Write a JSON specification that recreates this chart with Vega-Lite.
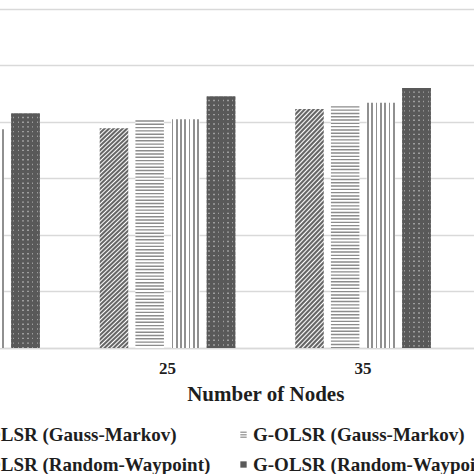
{
  "$schema": "https://vega.github.io/schema/vega-lite/v6.json",
  "width": 474,
  "height": 348,
  "autosize": {"type": "none"},
  "padding": {"left": 0, "top": 0, "right": 0, "bottom": 126},
  "background": "#ffffff",
  "config": {
    "view": {"stroke": null},
    "legend": {
      "orient": "none",
      "legendX": -33,
      "legendY": 425,
      "columns": 2,
      "columnPadding": 23,
      "rowPadding": 10,
      "padding": 0,
      "title": null,
      "labelFont": "Liberation Serif",
      "labelFontSize": 19,
      "labelFontWeight": "bold",
      "labelColor": "#1e1e1e",
      "labelLimit": 500,
      "labelOffset": 0,
      "symbolSize": 40,
      "symbolOpacity": 1,
      "symbolStrokeWidth": 0
    }
  },
  "data": {
    "values": [
      {"nodes": "15", "protocol": "OLSR (Gauss-Markov)", "value": 36.0},
      {"nodes": "15", "protocol": "G-OLSR (Gauss-Markov)", "value": 37.4},
      {"nodes": "15", "protocol": "OLSR (Random-Waypoint)", "value": 38.7},
      {"nodes": "15", "protocol": "G-OLSR (Random-Waypoint)", "value": 41.5},
      {"nodes": "25", "protocol": "OLSR (Gauss-Markov)", "value": 38.9},
      {"nodes": "25", "protocol": "G-OLSR (Gauss-Markov)", "value": 40.3},
      {"nodes": "25", "protocol": "OLSR (Random-Waypoint)", "value": 40.5},
      {"nodes": "25", "protocol": "G-OLSR (Random-Waypoint)", "value": 44.5},
      {"nodes": "35", "protocol": "OLSR (Gauss-Markov)", "value": 42.3},
      {"nodes": "35", "protocol": "G-OLSR (Gauss-Markov)", "value": 42.8},
      {"nodes": "35", "protocol": "OLSR (Random-Waypoint)", "value": 43.4},
      {"nodes": "35", "protocol": "G-OLSR (Random-Waypoint)", "value": 46.0},
      {"nodes": "45", "protocol": "OLSR (Gauss-Markov)", "value": 44.2},
      {"nodes": "45", "protocol": "G-OLSR (Gauss-Markov)", "value": 44.9},
      {"nodes": "45", "protocol": "OLSR (Random-Waypoint)", "value": 45.6},
      {"nodes": "45", "protocol": "G-OLSR (Random-Waypoint)", "value": 47.6}
    ]
  },
  "encoding": {
    "x": {
      "field": "nodes",
      "type": "nominal",
      "sort": ["15", "25", "35", "45"],
      "scale": {"domain": ["15", "25", "35", "45"], "range": [-125.75, 656.25], "paddingInner": 0, "paddingOuter": 0},
      "axis": {
        "title": "Number of Nodes",
        "domain": true,
        "domainColor": "#d9d9d9",
        "domainWidth": 1.3,
        "ticks": false,
        "tickSize": 0,
        "grid": false,
        "labelAngle": 0,
        "labelFont": "Liberation Serif",
        "labelFontSize": 17,
        "labelFontWeight": "bold",
        "labelColor": "#1e1e1e",
        "labelPadding": 12,
        "titleFont": "Liberation Serif",
        "titleFontSize": 21,
        "titleFontWeight": "bold",
        "titleColor": "#1e1e1e",
        "titlePadding": 7
      }
    },
    "xOffset": {
      "field": "protocol",
      "type": "nominal",
      "scale": {
        "domain": ["OLSR (Gauss-Markov)", "G-OLSR (Gauss-Markov)", "OLSR (Random-Waypoint)", "G-OLSR (Random-Waypoint)"],
        "paddingInner": 0.2,
        "paddingOuter": 0.84
      }
    },
    "y": {
      "field": "value",
      "type": "quantitative",
      "scale": {"domain": [0, 61.59], "nice": false},
      "axis": {
        "title": null,
        "domain": false,
        "ticks": false,
        "labels": false,
        "grid": true,
        "gridColor": "#d9d9d9",
        "gridWidth": 1.3,
        "values": [0, 10, 20, 30, 40, 50, 60]
      }
    }
  },
  "layer": [
    {
      "transform": [{"filter": "datum.protocol === 'OLSR (Gauss-Markov)'"}],
      "mark": {
        "type": "bar",
        "clip": true,
        "fill": {
          "gradient": "linear", "x1": 0, "y1": 0, "x2": 0.1594, "y2": 1.2846,
          "stops": [
            {"offset": 0, "color": "#666666"}, {"offset": 0.005, "color": "#666666"}, {"offset": 0.01, "color": "#ffffff"},
            {"offset": 0.015, "color": "#666666"}, {"offset": 0.02, "color": "#666666"}, {"offset": 0.025, "color": "#ffffff"},
            {"offset": 0.03, "color": "#666666"}, {"offset": 0.035, "color": "#666666"}, {"offset": 0.04, "color": "#ffffff"},
            {"offset": 0.045, "color": "#666666"}, {"offset": 0.05, "color": "#666666"}, {"offset": 0.055, "color": "#ffffff"},
            {"offset": 0.06, "color": "#666666"}, {"offset": 0.065, "color": "#666666"}, {"offset": 0.07, "color": "#ffffff"},
            {"offset": 0.075, "color": "#666666"}, {"offset": 0.08, "color": "#666666"}, {"offset": 0.085, "color": "#ffffff"},
            {"offset": 0.09, "color": "#666666"}, {"offset": 0.095, "color": "#666666"}, {"offset": 0.1, "color": "#ffffff"},
            {"offset": 0.105, "color": "#666666"}, {"offset": 0.11, "color": "#666666"}, {"offset": 0.115, "color": "#ffffff"},
            {"offset": 0.12, "color": "#666666"}, {"offset": 0.125, "color": "#666666"}, {"offset": 0.13, "color": "#ffffff"},
            {"offset": 0.135, "color": "#666666"}, {"offset": 0.14, "color": "#666666"}, {"offset": 0.145, "color": "#ffffff"},
            {"offset": 0.15, "color": "#666666"}, {"offset": 0.155, "color": "#666666"}, {"offset": 0.16, "color": "#ffffff"},
            {"offset": 0.165, "color": "#666666"}, {"offset": 0.17, "color": "#666666"}, {"offset": 0.175, "color": "#ffffff"},
            {"offset": 0.18, "color": "#666666"}, {"offset": 0.185, "color": "#666666"}, {"offset": 0.19, "color": "#ffffff"},
            {"offset": 0.195, "color": "#666666"}, {"offset": 0.2, "color": "#666666"}, {"offset": 0.205, "color": "#ffffff"},
            {"offset": 0.21, "color": "#666666"}, {"offset": 0.215, "color": "#666666"}, {"offset": 0.22, "color": "#ffffff"},
            {"offset": 0.225, "color": "#666666"}, {"offset": 0.23, "color": "#666666"}, {"offset": 0.235, "color": "#ffffff"},
            {"offset": 0.24, "color": "#666666"}, {"offset": 0.245, "color": "#666666"}, {"offset": 0.25, "color": "#ffffff"},
            {"offset": 0.255, "color": "#666666"}, {"offset": 0.26, "color": "#666666"}, {"offset": 0.265, "color": "#ffffff"},
            {"offset": 0.27, "color": "#666666"}, {"offset": 0.275, "color": "#666666"}, {"offset": 0.28, "color": "#ffffff"},
            {"offset": 0.285, "color": "#666666"}, {"offset": 0.29, "color": "#666666"}, {"offset": 0.295, "color": "#ffffff"},
            {"offset": 0.3, "color": "#666666"}, {"offset": 0.305, "color": "#666666"}, {"offset": 0.31, "color": "#ffffff"},
            {"offset": 0.315, "color": "#666666"}, {"offset": 0.32, "color": "#666666"}, {"offset": 0.325, "color": "#ffffff"},
            {"offset": 0.33, "color": "#666666"}, {"offset": 0.335, "color": "#666666"}, {"offset": 0.34, "color": "#ffffff"},
            {"offset": 0.345, "color": "#666666"}, {"offset": 0.35, "color": "#666666"}, {"offset": 0.355, "color": "#ffffff"},
            {"offset": 0.36, "color": "#666666"}, {"offset": 0.365, "color": "#666666"}, {"offset": 0.37, "color": "#ffffff"},
            {"offset": 0.375, "color": "#666666"}, {"offset": 0.38, "color": "#666666"}, {"offset": 0.385, "color": "#ffffff"},
            {"offset": 0.39, "color": "#666666"}, {"offset": 0.395, "color": "#666666"}, {"offset": 0.4, "color": "#ffffff"},
            {"offset": 0.405, "color": "#666666"}, {"offset": 0.41, "color": "#666666"}, {"offset": 0.415, "color": "#ffffff"},
            {"offset": 0.42, "color": "#666666"}, {"offset": 0.425, "color": "#666666"}, {"offset": 0.43, "color": "#ffffff"},
            {"offset": 0.435, "color": "#666666"}, {"offset": 0.44, "color": "#666666"}, {"offset": 0.445, "color": "#ffffff"},
            {"offset": 0.45, "color": "#666666"}, {"offset": 0.455, "color": "#666666"}, {"offset": 0.46, "color": "#ffffff"},
            {"offset": 0.465, "color": "#666666"}, {"offset": 0.47, "color": "#666666"}, {"offset": 0.475, "color": "#ffffff"},
            {"offset": 0.48, "color": "#666666"}, {"offset": 0.485, "color": "#666666"}, {"offset": 0.49, "color": "#ffffff"},
            {"offset": 0.495, "color": "#666666"}, {"offset": 0.5, "color": "#666666"}, {"offset": 0.505, "color": "#ffffff"},
            {"offset": 0.51, "color": "#666666"}, {"offset": 0.515, "color": "#666666"}, {"offset": 0.52, "color": "#ffffff"},
            {"offset": 0.525, "color": "#666666"}, {"offset": 0.53, "color": "#666666"}, {"offset": 0.535, "color": "#ffffff"},
            {"offset": 0.54, "color": "#666666"}, {"offset": 0.545, "color": "#666666"}, {"offset": 0.55, "color": "#ffffff"},
            {"offset": 0.555, "color": "#666666"}, {"offset": 0.56, "color": "#666666"}, {"offset": 0.565, "color": "#ffffff"},
            {"offset": 0.57, "color": "#666666"}, {"offset": 0.575, "color": "#666666"}, {"offset": 0.58, "color": "#ffffff"},
            {"offset": 0.585, "color": "#666666"}, {"offset": 0.59, "color": "#666666"}, {"offset": 0.595, "color": "#ffffff"},
            {"offset": 0.6, "color": "#666666"}, {"offset": 0.605, "color": "#666666"}, {"offset": 0.61, "color": "#ffffff"},
            {"offset": 0.615, "color": "#666666"}, {"offset": 0.62, "color": "#666666"}, {"offset": 0.625, "color": "#ffffff"},
            {"offset": 0.63, "color": "#666666"}, {"offset": 0.635, "color": "#666666"}, {"offset": 0.64, "color": "#ffffff"},
            {"offset": 0.645, "color": "#666666"}, {"offset": 0.65, "color": "#666666"}, {"offset": 0.655, "color": "#ffffff"},
            {"offset": 0.66, "color": "#666666"}, {"offset": 0.665, "color": "#666666"}, {"offset": 0.67, "color": "#ffffff"},
            {"offset": 0.675, "color": "#666666"}, {"offset": 0.68, "color": "#666666"}, {"offset": 0.685, "color": "#ffffff"},
            {"offset": 0.69, "color": "#666666"}, {"offset": 0.695, "color": "#666666"}, {"offset": 0.7, "color": "#ffffff"},
            {"offset": 0.705, "color": "#666666"}, {"offset": 0.71, "color": "#666666"}, {"offset": 0.715, "color": "#ffffff"},
            {"offset": 0.72, "color": "#666666"}, {"offset": 0.725, "color": "#666666"}, {"offset": 0.73, "color": "#ffffff"},
            {"offset": 0.735, "color": "#666666"}, {"offset": 0.74, "color": "#666666"}, {"offset": 0.745, "color": "#ffffff"},
            {"offset": 0.75, "color": "#666666"}, {"offset": 0.755, "color": "#666666"}, {"offset": 0.76, "color": "#ffffff"},
            {"offset": 0.765, "color": "#666666"}, {"offset": 0.77, "color": "#666666"}, {"offset": 0.775, "color": "#ffffff"},
            {"offset": 0.78, "color": "#666666"}, {"offset": 0.785, "color": "#666666"}, {"offset": 0.79, "color": "#ffffff"},
            {"offset": 0.795, "color": "#666666"}, {"offset": 0.8, "color": "#666666"}, {"offset": 0.805, "color": "#ffffff"},
            {"offset": 0.81, "color": "#666666"}, {"offset": 0.815, "color": "#666666"}, {"offset": 0.82, "color": "#ffffff"},
            {"offset": 0.825, "color": "#666666"}, {"offset": 0.83, "color": "#666666"}, {"offset": 0.835, "color": "#ffffff"},
            {"offset": 0.84, "color": "#666666"}, {"offset": 0.845, "color": "#666666"}, {"offset": 0.85, "color": "#ffffff"},
            {"offset": 0.855, "color": "#666666"}, {"offset": 0.86, "color": "#666666"}, {"offset": 0.865, "color": "#ffffff"},
            {"offset": 0.87, "color": "#666666"}, {"offset": 0.875, "color": "#666666"}, {"offset": 0.88, "color": "#ffffff"},
            {"offset": 0.885, "color": "#666666"}, {"offset": 0.89, "color": "#666666"}, {"offset": 0.895, "color": "#ffffff"},
            {"offset": 1, "color": "#ffffff"}
          ]
        }
      }
    },
    {
      "transform": [{"filter": "datum.protocol === 'G-OLSR (Gauss-Markov)'"}],
      "mark": {"type": "bar", "clip": true, "fill": "#ffffff"}
    },
    {
      "transform": [{"filter": "datum.protocol === 'G-OLSR (Gauss-Markov)'"}],
      "mark": {"type": "rule", "clip": true, "stroke": "#8c8c8c", "strokeWidth": 28.5, "strokeDash": [1.4, 1.9]},
      "encoding": {"y2": {"datum": 0}}
    },
    {
      "transform": [{"filter": "datum.protocol === 'OLSR (Random-Waypoint)'"}],
      "mark": {
        "type": "bar",
        "clip": true,
        "fill": {
          "gradient": "linear", "x1": 0, "y1": 0, "x2": 1, "y2": 0,
          "stops": [
            {"offset": 0, "color": "#ffffff"}, {"offset": 0.02, "color": "#ffffff"},
            {"offset": 0.02, "color": "#909090"}, {"offset": 0.08, "color": "#909090"},
            {"offset": 0.08, "color": "#ffffff"}, {"offset": 0.17, "color": "#ffffff"},
            {"offset": 0.17, "color": "#909090"}, {"offset": 0.23, "color": "#909090"},
            {"offset": 0.23, "color": "#ffffff"}, {"offset": 0.32, "color": "#ffffff"},
            {"offset": 0.32, "color": "#909090"}, {"offset": 0.38, "color": "#909090"},
            {"offset": 0.38, "color": "#ffffff"}, {"offset": 0.47, "color": "#ffffff"},
            {"offset": 0.47, "color": "#909090"}, {"offset": 0.53, "color": "#909090"},
            {"offset": 0.53, "color": "#ffffff"}, {"offset": 0.62, "color": "#ffffff"},
            {"offset": 0.62, "color": "#909090"}, {"offset": 0.68, "color": "#909090"},
            {"offset": 0.68, "color": "#ffffff"}, {"offset": 0.77, "color": "#ffffff"},
            {"offset": 0.77, "color": "#909090"}, {"offset": 0.83, "color": "#909090"},
            {"offset": 0.83, "color": "#ffffff"}, {"offset": 0.92, "color": "#ffffff"},
            {"offset": 0.92, "color": "#909090"}, {"offset": 0.98, "color": "#909090"},
            {"offset": 0.98, "color": "#ffffff"}, {"offset": 1, "color": "#ffffff"}
          ]
        }
      }
    },
    {
      "transform": [{"filter": "datum.protocol === 'G-OLSR (Random-Waypoint)'"}],
      "mark": {
        "type": "bar",
        "clip": true,
        "fill": {
          "gradient": "linear", "x1": 0, "y1": 0, "x2": 1, "y2": 0,
          "stops": [
            {"offset": 0, "color": "#595959"}, {"offset": 0.06, "color": "#595959"},
            {"offset": 0.06, "color": "#9e9e9e"}, {"offset": 0.11, "color": "#9e9e9e"},
            {"offset": 0.11, "color": "#595959"}, {"offset": 0.225, "color": "#595959"},
            {"offset": 0.225, "color": "#9e9e9e"}, {"offset": 0.275, "color": "#9e9e9e"},
            {"offset": 0.275, "color": "#595959"}, {"offset": 0.39, "color": "#595959"},
            {"offset": 0.39, "color": "#9e9e9e"}, {"offset": 0.44, "color": "#9e9e9e"},
            {"offset": 0.44, "color": "#595959"}, {"offset": 0.555, "color": "#595959"},
            {"offset": 0.555, "color": "#9e9e9e"}, {"offset": 0.605, "color": "#9e9e9e"},
            {"offset": 0.605, "color": "#595959"}, {"offset": 0.72, "color": "#595959"},
            {"offset": 0.72, "color": "#9e9e9e"}, {"offset": 0.77, "color": "#9e9e9e"},
            {"offset": 0.77, "color": "#595959"}, {"offset": 0.885, "color": "#595959"},
            {"offset": 0.885, "color": "#9e9e9e"}, {"offset": 0.935, "color": "#9e9e9e"},
            {"offset": 0.935, "color": "#595959"}, {"offset": 1, "color": "#595959"}
          ]
        }
      }
    },
    {
      "transform": [{"filter": "datum.protocol === 'G-OLSR (Random-Waypoint)'"}],
      "mark": {"type": "rule", "clip": true, "stroke": "#595959", "strokeWidth": 28.5, "strokeDash": [3.3, 1.4]},
      "encoding": {"y2": {"datum": 0}}
    },
    {
      "mark": {"type": "point", "filled": true, "opacity": 0},
      "encoding": {
        "color": {
          "field": "protocol",
          "type": "nominal",
          "scale": {
            "domain": ["OLSR (Gauss-Markov)", "OLSR (Random-Waypoint)", "G-OLSR (Gauss-Markov)", "G-OLSR (Random-Waypoint)"],
            "range": ["#8a8a8a", "#9a9a9a", "#a3a3a3", "#5a5a5a"]
          },
          "legend": {"title": null}
        },
        "shape": {
          "field": "protocol",
          "type": "nominal",
          "scale": {
            "domain": ["OLSR (Gauss-Markov)", "OLSR (Random-Waypoint)", "G-OLSR (Gauss-Markov)", "G-OLSR (Random-Waypoint)"],
            "range": [
              "square",
              "M-1,-1H-0.55V1H-1Z M-0.225,-1H0.225V1H-0.225Z M0.55,-1H1V1H0.55Z",
              "M-1,-1H1V-0.55H-1Z M-1,-0.225H1V0.225H-1Z M-1,0.55H1V1H-1Z",
              "square"
            ]
          },
          "legend": {"title": null}
        }
      }
    }
  ]
}
